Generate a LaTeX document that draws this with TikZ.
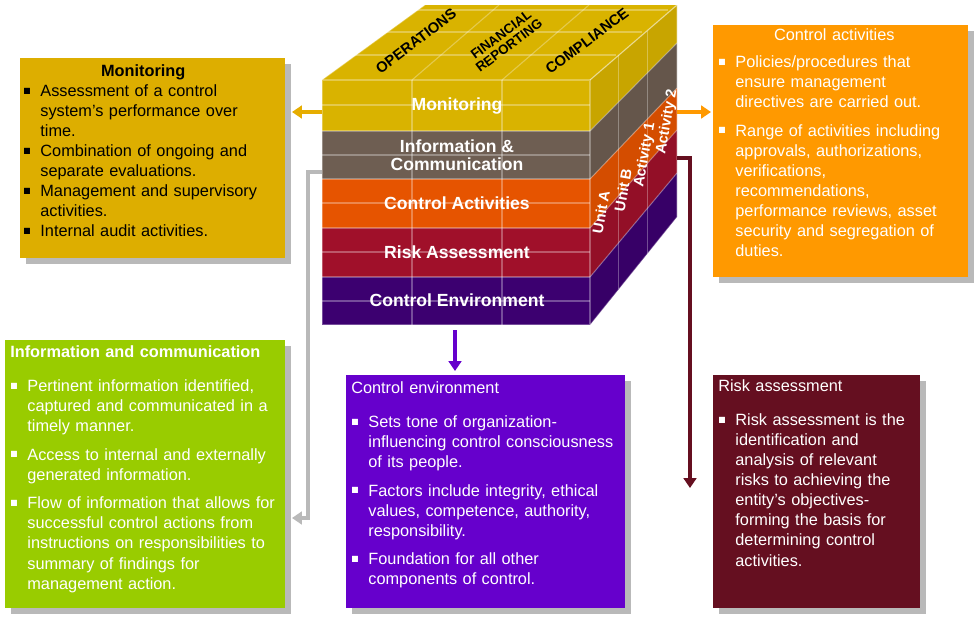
\documentclass[tikz,border=0pt]{standalone}
\usepackage{fontspec}
\setmainfont{Liberation Sans}
\usepackage{amssymb}
\usetikzlibrary{arrows.meta,positioning}

\definecolor{monY}{HTML}{D9B300}
\definecolor{infoG}{HTML}{6E5E52}
\definecolor{actO}{HTML}{E65400}
\definecolor{riskR}{HTML}{A0102A}
\definecolor{envP}{HTML}{3C0070}
\definecolor{boxY}{HTML}{E0B800}
\definecolor{boxO}{HTML}{FF9900}
\definecolor{boxG}{HTML}{99CC00}
\definecolor{boxP}{HTML}{6600CC}
\definecolor{boxR}{HTML}{650F20}

\newcommand{\bx}{\item[\raisebox{1.5pt}{\scalebox{0.55}{$\blacksquare$}}]}
\newenvironment{blist}{\begin{list}{}{\leftmargin=1.05em\labelsep=0.6em\itemsep=0pt\parsep=0pt\topsep=0pt}}{\end{list}}

\tikzset{
  shadow/.style={fill=gray!55},
  btext/.style={anchor=north west, text width=#1*0.025cm, align=left, inner sep=0pt,
    font=\fontsize{11.6}{14.3}\selectfont},
  layer/.style={font=\bfseries\fontsize{12.5}{13}\selectfont, text=white, align=center},
  toplbl/.style={font=\bfseries\fontsize{10.5}{10.5}\selectfont, rotate=37, align=center, inner sep=0pt},
  grid/.style={white, opacity=0.3, line width=0.8pt},
  link/.style={line width=3pt, -{Triangle[length=7pt,width=9pt]}},
}

\begin{document}
\begin{tikzpicture}[x=0.025cm, y=-0.025cm]
\useasboundingbox (0,0) rectangle (980,618);

% Boxes with shadows
\fill[shadow] (26,64) rectangle (291,264);
\fill[monY!90!orange] (20,58) rectangle (285,258);
\fill[shadow] (719,31) rectangle (974,283);
\fill[boxO] (713,25) rectangle (968,277);
\fill[shadow] (11,346) rectangle (291,614);
\fill[boxG] (5,340) rectangle (285,608);
\fill[shadow] (352,381) rectangle (631,614);
\fill[boxP] (346,375) rectangle (625,608);
\fill[shadow] (719,381) rectangle (926,614);
\fill[boxR] (713,375) rectangle (920,608);

% Box texts
\node[btext=240] (montxt) at (23,64) {%
  \centerline{\bfseries Monitoring}
  \begin{blist}
  \bx Assessment of a control system's performance over time.
  \bx Combination of ongoing and separate evaluations.
  \bx Management and supervisory activities.
  \bx Internal audit activities.
  \end{blist}};
\node[btext=232, text=white] (acttxt) at (718,28) {%
  \centerline{Control activities}\vspace{5pt}
  \begin{blist}
  \bx Policies/procedures that ensure management directives are carried out.\vspace{6pt}
  \bx Range of activities including approvals, authorizations, verifications, recommendations, performance reviews, asset security and segregation of duties.
  \end{blist}};
\node[btext=272, text=white] (inftxt) at (10,345) {%
  {\bfseries\fontsize{11.6}{14}\selectfont Information and communication}\par\vspace{8pt}
  \begin{blist}
  \bx Pertinent information identified, captured and communicated in a timely manner.\vspace{6pt}
  \bx Access to internal and externally generated information.\vspace{6pt}
  \bx Flow of information that allows for successful control actions from instructions on responsibilities to summary of findings for management action.
  \end{blist}};
\node[btext=274, text=white] (envtxt) at (351,381) {%
  Control environment\par\vspace{8pt}
  \begin{blist}
  \bx Sets tone of organization-\newline influencing control consciousness of its people.\vspace{6pt}
  \bx Factors include integrity, ethical values, competence, authority, responsibility.\vspace{6pt}
  \bx Foundation for all other components of control.
  \end{blist}};
\node[btext=194, text=white] (risktxt) at (718,379) {%
  Risk assessment\par\vspace{8pt}
  \begin{blist}
  \bx Risk assessment is the identification and analysis of relevant risks to achieving the entity's objectives-\newline forming the basis for determining control activities.
  \end{blist}};

% Cube: front face layers
\fill[monY]  (322,80)  rectangle (590,131);
\fill[infoG] (322,131) rectangle (590,179);
\fill[actO]  (322,179) rectangle (590,228);
\fill[riskR] (322,228) rectangle (590,277);
\fill[envP]  (322,277) rectangle (590,325);
% top face
\fill[monY] (322,80) -- (590,80) -- (677,5) -- (425,5) -- cycle;
% right face layers
\fill[monY!92!black]  (590,80)  -- (677,5)   -- (677,43)  -- (590,131) -- cycle;
\fill[infoG!92!black] (590,131) -- (677,43)  -- (677,88)  -- (590,179) -- cycle;
\fill[actO!92!black]  (590,179) -- (677,88)  -- (677,130) -- (590,228) -- cycle;
\fill[riskR!92!black] (590,228) -- (677,130) -- (677,173) -- (590,277) -- cycle;
\fill[envP!92!black]  (590,277) -- (677,173) -- (677,217) -- (590,325) -- cycle;

% grid lines
\foreach \xa in {412,502} \draw[grid] (\xa,80) -- (\xa,325);
\foreach \ya in {105,155,203,252,301} \draw[grid] (322,\ya) -- (590,\ya);
\foreach \ya in {131,179,228,277} \draw[grid] (322,\ya) -- (590,\ya);
\draw[grid] (322,80) rectangle (590,325);
\draw[grid] (348,55) -- (616,55) (374,32) -- (642,32) (400,10) -- (668,10);
\foreach \xa in {412,502,590} \draw[grid] (\xa,80) -- (\xa+87,5);
\draw[grid] (322,80) -- (425,5) (590,80) -- (677,5) -- (677,217) -- (590,325);
\foreach \t in {0.33,0.66} \draw[grid] (590+87*\t,80-75*\t) -- (590+87*\t,325-108*\t);
\foreach \yf/\yb in {131/43,179/88,228/130,277/173} \draw[grid] (590,\yf) -- (677,\yb);

% cube labels
\foreach \nm/\yy/\txt in {lmon/106/Monitoring,linfo/155/{Information \&\\Communication},
  lact/203/Control Activities,lrisk/252/Risk Assessment,lenv/300/Control Environment}
  \node[layer] (\nm) at (457,\yy) {\txt};
\node[toplbl] (ops) at (416,41) {OPERATIONS};
\node[toplbl, font=\bfseries\fontsize{9.5}{9.5}\selectfont] (fin) at (505,40) {FINANCIAL\\REPORTING};
\node[toplbl] (comp) at (587,41) {COMPLIANCE};
\foreach \nm/\xx/\yy/\txt in {ua/601/212/Unit A, ub/623/190/Unit B, a1/645/155/Activity 1, a2/667/122/Activity 2}
  \node[font=\bfseries\fontsize{10.5}{11}\selectfont, text=white, rotate=80, inner sep=0pt] (\nm) at (\xx,\yy) {\txt};

% connectors
\coordinate (cubeL1) at (322,112);
\coordinate (cubeR1) at (677,112);
\coordinate (cubeL2) at (322,172);
\coordinate (cubeB) at (455,330);
\coordinate (cubeR2) at (677,158);
\draw[link, boxY!80!orange] (cubeL1) -- (292,112);
\draw[link, boxO] (cubeR1) -- (711,112);
\draw[link, gray!55] (cubeL2) -- (308,172) |- (292,518);
\draw[link, boxP] (cubeB) -- (455,371);
\draw[link, boxR] (cubeR2) -- (690,158) -- (690,488);
\end{tikzpicture}
\end{document}
